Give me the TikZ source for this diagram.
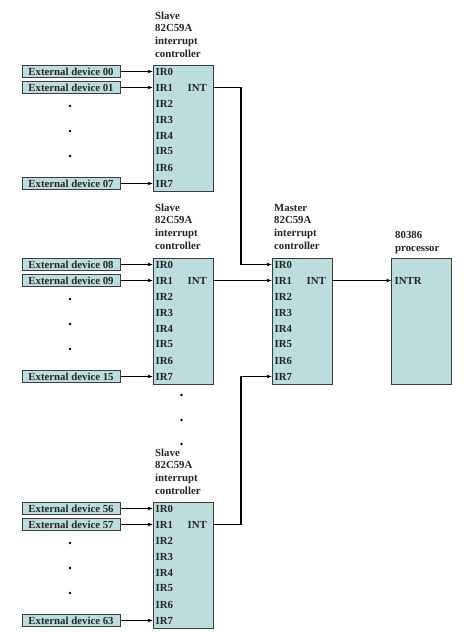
\documentclass[tikz,border=0pt]{standalone}
\usepackage{fontspec}
\setmainfont{Liberation Serif}
\usetikzlibrary{arrows.meta}
\definecolor{chipfill}{RGB}{189,220,221}
\definecolor{edge}{RGB}{60,60,60}
\tikzset{
  txt/.style={font=\fontsize{10.8}{12.6}\selectfont\bfseries, text=black!85, inner sep=1pt},
  chip/.style={draw=edge, line width=0.9pt, fill=chipfill, minimum width=60pt, minimum height=126pt, inner sep=0pt},
  dev/.style={txt, draw=edge, line width=1pt, fill=chipfill, minimum width=98pt, minimum height=12pt, inner sep=0pt},
  lab/.style={txt, align=left, anchor=base west},
  conn/.style={line width=1.1pt, -{Stealth[length=5pt,width=3.6pt]}},
  wire/.style={line width=1.1pt},
  dot/.style={circle, fill=black, inner sep=0pt, minimum size=2.6pt},
}
\newcommand{\mkchip}[3]{%
  \node[chip] (#1) at (#2+30, #3+63) {};
  \foreach \i in {0,...,7} {
    \node[txt, anchor=west] (#1ir\i) at (#2+1.5, #3+6.5+16*\i) {IR\i};
  }
}
\begin{document}
\begin{tikzpicture}[x=1pt, y=-1pt]
\useasboundingbox (0,0) rectangle (474,632);

% controllers
\mkchip{sa}{153}{65}
\mkchip{sb}{153}{258}
\mkchip{sc}{153}{502}
\mkchip{m}{272}{258}
\node[chip] (p) at (421.5, 321) {};
\node[txt, anchor=west] (pintr) at (393.5, 280.5) {INTR};

% INT labels
\node[txt, anchor=east] (saint) at (208, 87.5) {INT};
\node[txt, anchor=east] (sbint) at (208, 280.5) {INT};
\node[txt, anchor=east] (scint) at (208, 524.5) {INT};
\node[txt, anchor=east] (mint) at (327, 280.5) {INT};

% titles (base anchor = baseline of last line)
\node[lab] (salab) at (154,57) {Slave\\82C59A\\interrupt\\controller};
\node[lab] (sblab) at (154,249) {Slave\\82C59A\\interrupt\\controller};
\node[lab] (sclab) at (154,494) {Slave\\82C59A\\interrupt\\controller};
\node[lab] (mlab) at (273,249) {Master\\82C59A\\interrupt\\controller};
\node[lab] (plab) at (394,251) {80386\\processor};

% external devices
\node[dev] (d00) at (71, 71.5) {External device 00};
\node[dev] (d01) at (71, 87.5) {External device 01};
\node[dev] (d07) at (71, 183.5) {External device 07};
\node[dev] (d08) at (71, 264.5) {External device 08};
\node[dev] (d09) at (71, 280.5) {External device 09};
\node[dev] (d15) at (71, 376.5) {External device 15};
\node[dev] (d56) at (71, 508.5) {External device 56};
\node[dev] (d57) at (71, 524.5) {External device 57};
\node[dev] (d63) at (71, 620.5) {External device 63};

\draw[conn] (d00.east) -- (sa.west |- sair0);
\draw[conn] (d01.east) -- (sa.west |- sair1);
\draw[conn] (d07.east) -- (sa.west |- sair7);
\draw[conn] (d08.east) -- (sb.west |- sbir0);
\draw[conn] (d09.east) -- (sb.west |- sbir1);
\draw[conn] (d15.east) -- (sb.west |- sbir7);
\draw[conn] (d56.east) -- (sc.west |- scir0);
\draw[conn] (d57.east) -- (sc.west |- scir1);
\draw[conn] (d63.east) -- (sc.west |- scir7);

% dots
\foreach \t/\n in {65/a,258/b,502/c} {
  \node[dot] (dots\n1) at (70, \t+41) {};
  \node[dot] (dots\n2) at (70, \t+66) {};
  \node[dot] (dots\n3) at (70, \t+91) {};
}
\node[dot] (vd1) at (181.5, 395) {};
\node[dot] (vd2) at (181.5, 420) {};
\node[dot] (vd3) at (181.5, 444) {};

% INT connections
\coordinate (j) at (241, 0);
\draw[conn] (sa.east |- saint) -- (j |- saint) -- (j |- mir0) -- (m.west |- mir0);
\draw[conn] (sb.east |- sbint) -- (m.west |- mir1);
\draw[conn] (sc.east |- scint) -- (j |- scint) -- (j |- mir7) -- (m.west |- mir7);
\draw[conn] (m.east |- mint) -- (p.west |- pintr);
\end{tikzpicture}
\end{document}
